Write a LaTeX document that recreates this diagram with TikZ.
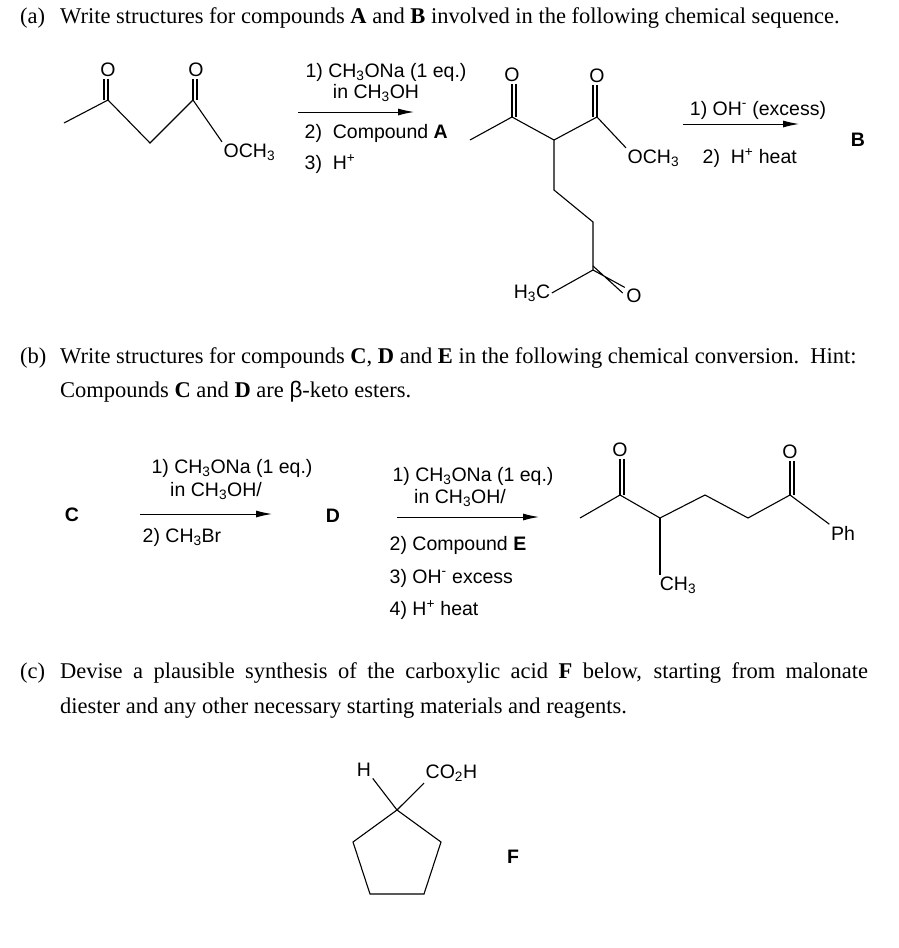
\documentclass[tikz,border=0pt]{standalone}
\usepackage{fontspec}
\usetikzlibrary{arrows.meta}
\setmainfont{Liberation Serif}
\newfontfamily\arial{Liberation Sans}
\begin{document}
\begin{tikzpicture}[x=1pt,y=-1pt,
  bd/.style={line width=1.1pt},
  txt/.style={anchor=west,inner sep=0pt,font=\fontsize{22.5}{35}\selectfont},
  lab/.style={inner sep=1.5pt,font=\arial\fontsize{19.5}{22}\selectfont},
  arr/.style={line width=1pt,-{Latex[length=16pt,width=7pt]}}]
\useasboundingbox (0,0) rectangle (898,948);
\fill[white] (0,0) rectangle (898,948);
% (a)
\node[txt] (ha) at (20,18) {(a)};
\node[txt] (ta) at (60,18) {Write structures for compounds \textbf{A} and \textbf{B} involved in the following chemical sequence.};
% molecule 1
\coordinate (m1) at (64,123); \coordinate (c1) at (108,100); \coordinate (m2) at (150,143); \coordinate (c2) at (193,100);
\node[lab] (o1) at (108,70) {O}; \node[lab] (o2) at (196,70) {O};
\node[lab,anchor=west] (oc1) at (222,152) {OCH\textsubscript{3}};
\draw[bd] (m1)--(c1)--(m2)--(c2)--(oc1.north west);
\draw[bd] (c1)--(o1.south) ([xshift=-4pt]c1)--([xshift=-4pt]o1.south);
\draw[bd] (c2)--(o2.south -| c2) ([xshift=4pt]c2)--([xshift=4pt]o2.south -| c2);
% arrow 1
\draw[arr] (298,112)--(414,112);
\node[lab] (r1) at (386,72) {1) CH\textsubscript{3}ONa (1 eq.)};
\node[lab] (r2) at (376,93) {in CH\textsubscript{3}OH};
\node[lab,anchor=west] (r3) at (303,133) {2) \ Compound \textbf{A}};
\node[lab,anchor=west] (r4) at (303,164) {3) \ H\textsuperscript{+}};
% molecule 2
\coordinate (n1) at (470,140); \coordinate (d1) at (512,117); \coordinate (n2) at (554,140); \coordinate (d2) at (597,117);
\coordinate (n3) at (554,190); \coordinate (n4) at (593,222); \coordinate (d3) at (593,270);
\node[lab] (p1) at (512,75) {O}; \node[lab] (p2) at (597,76) {O};
\node[lab,anchor=west] (oc2) at (626,158) {OCH\textsubscript{3}};
\node[lab] (h3c) at (532,293) {H\textsubscript{3}C};
\node[lab] (p3) at (634,296) {O};
\draw[bd] (n1)--(d1)--(n2)--(d2)--(oc2.north west);
\draw[bd] (d1)--(p1.south) ([xshift=4pt]d1)--([xshift=4pt]p1.south);
\draw[bd] (d2)--(p2.south) ([xshift=-4pt]d2)--([xshift=-4pt]p2.south);
\draw[bd] (n2)--(n3)--(n4)--(d3)--(h3c.east);
\draw[bd] (d3)--(p3.north west) ([yshift=4pt]d3)--([xshift=-2pt,yshift=3pt]p3.west);
% arrow 2
\draw[arr] (683,124)--(799,124);
\node[lab] (s1) at (758,110) {1) OH\textsuperscript{-} (excess)};
\node[lab,anchor=west] (s2) at (701,158) {2) \ H\textsuperscript{+} heat};
\node[lab] (B) at (858,140) {\textbf{B}};
% (b)
\node[txt] (hb) at (20,358) {(b)};
\node[txt] (tb) at (60,358) {Write structures for compounds \textbf{C}, \textbf{D} and \textbf{E} in the following chemical conversion.\ \ Hint:};
\node[txt] (tb2) at (60,392) {Compounds \textbf{C} and \textbf{D} are {\arial β}-keto esters.};
\node[lab] (C) at (72,515) {\textbf{C}};
\draw[arr] (140,514)--(272,514);
\node[lab] (u1) at (232,468) {1) CH\textsubscript{3}ONa (1 eq.)};
\node[lab] (u2) at (216,491) {in CH\textsubscript{3}OH/};
\node[lab,anchor=west] (u3) at (141,537) {2) CH\textsubscript{3}Br};
\node[lab] (D) at (333,516) {\textbf{D}};
\draw[arr] (397,517)--(539,517);
\node[lab] (v1) at (473,476) {1) CH\textsubscript{3}ONa (1 eq.)};
\node[lab] (v2) at (460,498) {in CH\textsubscript{3}OH/};
\node[lab,anchor=west] (v3) at (388,545) {2) Compound \textbf{E}};
\node[lab,anchor=west] (v4) at (388,578) {3) OH\textsuperscript{-} excess};
\node[lab,anchor=west] (v5) at (388,610) {4) H\textsuperscript{+} heat};
% product
\coordinate (q1) at (580,518); \coordinate (e1) at (620,495); \coordinate (q2) at (660,518);
\coordinate (q3) at (705,495); \coordinate (q4) at (748,518); \coordinate (e2) at (790,495);
\node[lab] (w1) at (620,450) {O}; \node[lab] (w2) at (790,452) {O};
\node[lab] (ph) at (843,533) {Ph};
\node[lab] (ch3) at (678,585) {CH\textsubscript{3}};
\draw[bd] (q1)--(e1)--(q2)--(q3)--(q4)--(e2)--(ph.north west);
\draw[bd] (q2)--(ch3.north -| q2);
\draw[bd] (e1)--(w1.south) ([xshift=4pt]e1)--([xshift=4pt]w1.south);
\draw[bd] (e2)--(w2.south) ([xshift=4pt]e2)--([xshift=4pt]w2.south);
% (c)
\node[txt] (hc) at (20,673) {(c)};
\node[txt,text width=808pt,align=justify] (tc) at (60,690) {Devise a plausible synthesis of the carboxylic acid \textbf{F} below, starting from malonate\linebreak diester and any other necessary starting materials and reagents.};
\coordinate (k1) at (397,810); \coordinate (k2) at (441,842); \coordinate (k3) at (424,894);
\coordinate (k4) at (370,894); \coordinate (k5) at (353,842);
\draw[bd] (k1)--(k2)--(k3)--(k4)--(k5)--cycle;
\node[lab] (hh) at (364,770) {H};
\node[lab,anchor=west] (co) at (424,773) {CO\textsubscript{2}H};
\draw[bd] (k1)--(hh.south east) (k1)--(co.south west);
\node[lab] (F) at (513,857) {\textbf{F}};
\end{tikzpicture}
\end{document}
